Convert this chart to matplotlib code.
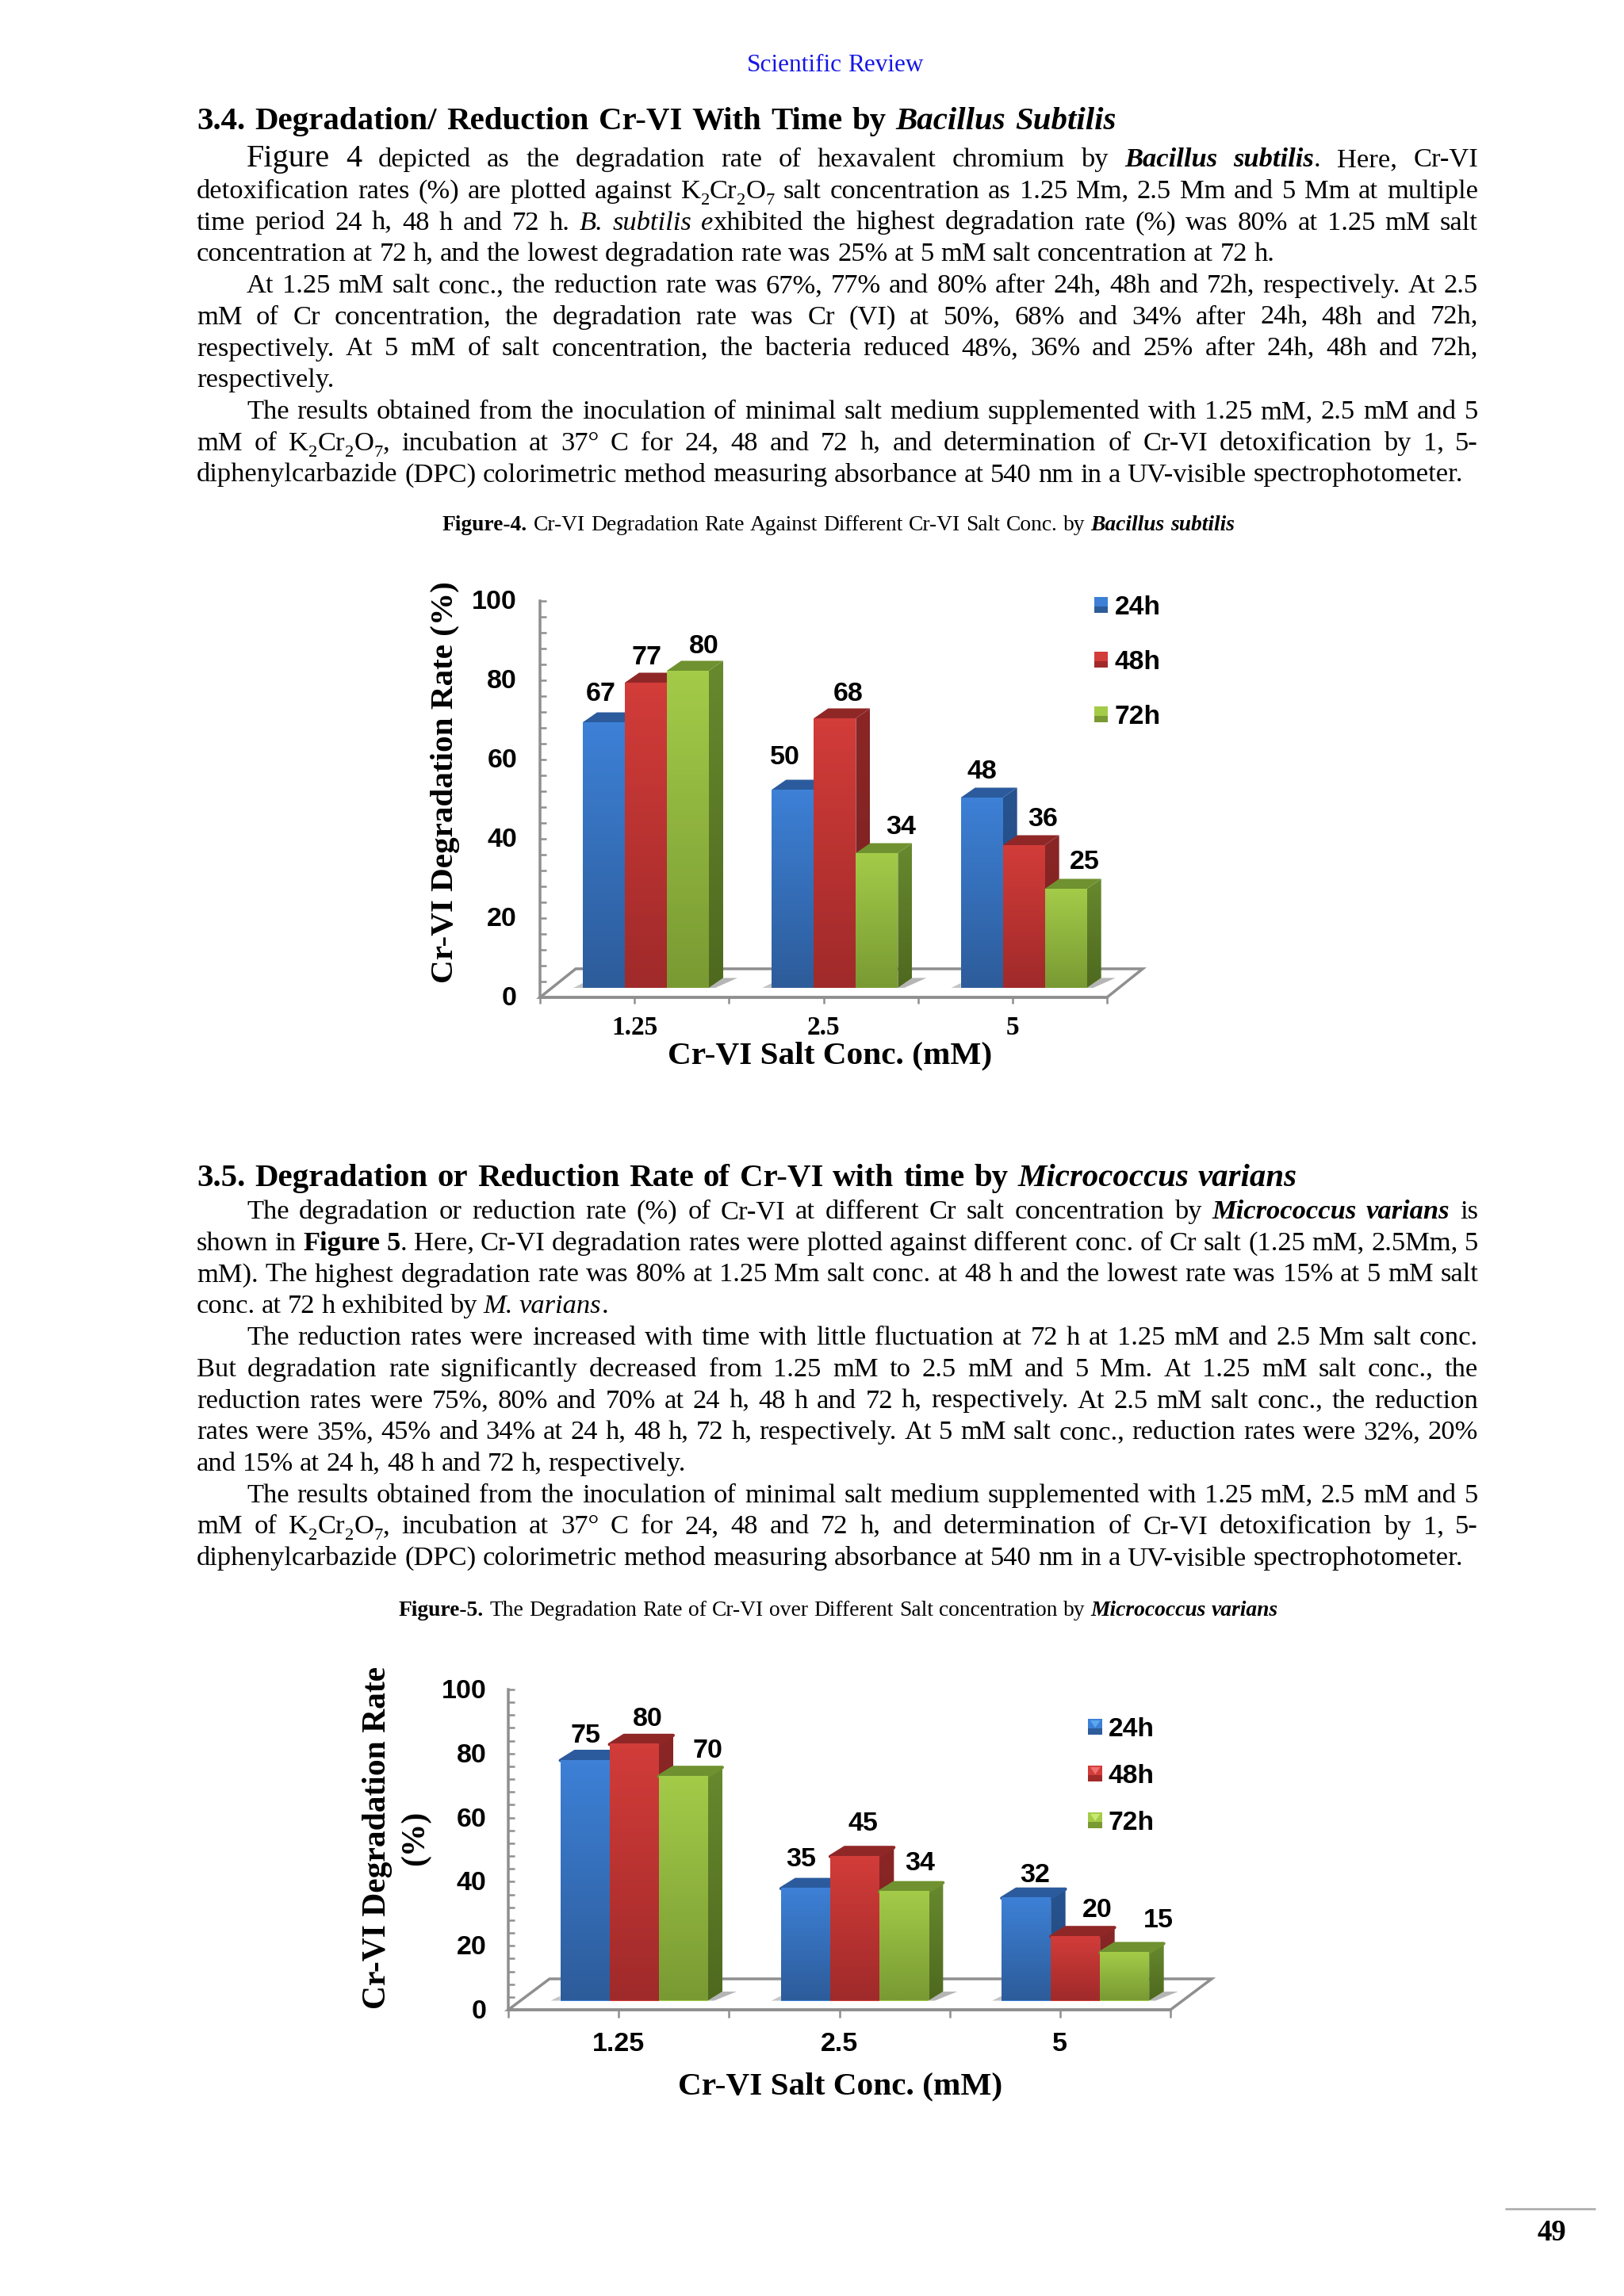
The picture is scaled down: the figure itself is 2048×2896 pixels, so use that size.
import re
import numpy as np
import matplotlib
matplotlib.use("Agg")
import matplotlib.pyplot as plt
from matplotlib.colors import LinearSegmentedColormap
from matplotlib.font_manager import FontProperties
from matplotlib.legend_handler import HandlerBase
from matplotlib.patches import Patch, Polygon, Rectangle
from matplotlib.ticker import MultipleLocator
from matplotlib.transforms import ScaledTranslation

W, H = 2048, 2896
SERIF = "Liberation Serif"
SANS = "Liberation Sans"

# ---------- data ----------
categories = ["1.25", "2.5", "5"]
series_names = ["24h", "48h", "72h"]
fig4_24h = [67, 50, 48]
fig4_48h = [77, 68, 36]
fig4_72h = [80, 34, 25]
fig5_24h = [75, 35, 32]
fig5_48h = [80, 45, 20]
fig5_72h = [70, 34, 15]
y_ticks = [0, 20, 40, 60, 80, 100]

# label offsets (px) relative to the bar centre / bar top
fig4_label_dx = [[-4, 1, 20], [-10, 17, 30], [0, 24, 24]]
fig4_label_dy = [36, 31, 31, 41, 30, 32, 32, 33, 33]
fig5_label_dx = [[1, 17, 31], [-6, 11, 20], [11, 28, 43]]
fig5_label_dy = [31, 32, 32, 37, 41, 36, 29, 33, 40]

FRONT = [("#3d80d6", "#2d5c9a"), ("#d23c39", "#a02a2a"), ("#a3cb48", "#799a33")]
SIDE = [("#27538f", "#224a80"), ("#8b2626", "#7a2121"), ("#68892e", "#4e691f")]
TOP = ["#2b5b9d", "#902727", "#70912f"]
AXIS = "#8f8f8f"

fig = plt.figure(figsize=(W / 100, H / 100), dpi=100, facecolor="white")
page = fig.add_axes([0, 0, 1, 1], zorder=0)
page.set_xlim(0, W)
page.set_ylim(H, 0)
page.axis("off")
renderer = fig.canvas.get_renderer()


def px(p):
    return p * 72 / 100


def fprop(style, size):
    kw = {"family": SERIF, "size": size}
    if style in ("b", "bi"):
        kw["weight"] = "bold"
    if style in ("i", "bi"):
        kw["style"] = "italic"
    if style == "s":
        kw["size"] = size * 0.65
    if style == "big":
        kw["size"] = size * 1.17
    return FontProperties(**kw)


def parse(line):
    words, cur = [], []
    for chunk in re.split(r"(<[a-z]+>.*?</[a-z]+>)", line):
        if not chunk:
            continue
        m = re.fullmatch(r"<([a-z]+)>(.*?)</[a-z]+>", chunk)
        style, text = (m.group(1), m.group(2)) if m else ("r", chunk)
        for part in re.split(r"( +)", text):
            if not part:
                continue
            if part.isspace():
                if cur:
                    words.append(cur)
                cur = []
            else:
                cur.append((part, style))
    if cur:
        words.append(cur)
    return words


def width(text, fp):
    return renderer.get_text_width_height_descent(text, fp, False)[0]


def text_line(line, x0, x1, y, size, color="black"):
    words = parse(line)
    widths = [sum(width(t, fprop(s, size)) for t, s in w) for w in words]
    gap = (x1 - x0 - sum(widths)) / max(len(words) - 1, 1)
    x = x0
    for w, ww in zip(words, widths):
        cx = x
        for t, s in w:
            fp = fprop(s, size)
            dy = 8 if s == "s" else 0
            page.text(cx, y + dy, t, fontproperties=fp, color=color, va="baseline", ha="left")
            cx += width(t, fp)
        x += ww + gap


L, R, IND = 248, 1864, 311
BODY = 24.8
PITCH = 39.75

section1 = [
    (IND, R, "<big>Figure</big> <big>4</big> depicted as the degradation rate of hexavalent chromium by <bi>Bacillus</bi> <bi>subtilis</bi>. Here, Cr-VI"),
    (L, R, "detoxification rates (%) are plotted against K<s>2</s>Cr<s>2</s>O<s>7</s> salt concentration as 1.25 Mm, 2.5 Mm and 5 Mm at multiple"),
    (L, R, "time period 24 h, 48 h and 72 h. <i>B. subtilis e</i>xhibited the highest degradation rate (%) was 80% at 1.25 mM salt"),
    (L, 1607, "concentration at 72 h, and the lowest degradation rate was 25% at 5 mM salt concentration at 72 h."),
    (IND, R, "At 1.25 mM salt conc., the reduction rate was 67%, 77% and 80% after 24h, 48h and 72h, respectively. At 2.5"),
    (L, R, "mM of Cr concentration, the degradation rate was Cr (VI) at 50%, 68% and 34% after 24h, 48h and 72h,"),
    (L, R, "respectively. At 5 mM of salt concentration, the bacteria reduced 48%, 36% and 25% after 24h, 48h and 72h,"),
    (L, 420, "respectively."),
    (IND, R, "The results obtained from the inoculation of minimal salt medium supplemented with 1.25 mM, 2.5 mM and 5"),
    (L, R, "mM of K<s>2</s>Cr<s>2</s>O<s>7</s>, incubation at 37° C for 24, 48 and 72 h, and determination of Cr-VI detoxification by 1, 5-"),
    (L, 1845, "diphenylcarbazide (DPC) colorimetric method measuring absorbance at 540 nm in a UV-visible spectrophotometer."),
]
section2 = [
    (IND, R, "The degradation or reduction rate (%) of Cr-VI at different Cr salt concentration by <bi>Micrococcus</bi> <bi>varians</bi> is"),
    (L, R, "shown in <b>Figure</b> <b>5</b>. Here, Cr-VI degradation rates were plotted against different conc. of Cr salt (1.25 mM, 2.5Mm, 5"),
    (L, R, "mM). The highest degradation rate was 80% at 1.25 Mm salt conc. at 48 h and the lowest rate was 15%  at 5 mM salt"),
    (L, 767, "conc. at 72 h exhibited by <i>M. varians</i>."),
    (IND, R, "The reduction rates were increased with time with little fluctuation at 72 h at 1.25 mM and 2.5 Mm salt conc."),
    (L, R, "But degradation rate significantly decreased from 1.25 mM to 2.5 mM and 5 Mm.  At 1.25 mM salt conc., the"),
    (L, R, "reduction rates were 75%, 80% and 70% at 24 h, 48 h and 72 h, respectively. At 2.5 mM salt conc., the reduction"),
    (L, R, "rates were 35%, 45% and 34% at 24 h, 48 h, 72 h, respectively. At 5 mM salt conc., reduction rates were 32%, 20%"),
    (L, 865, "and 15% at 24 h, 48 h and 72 h, respectively."),
    (IND, R, "The results obtained from the inoculation of minimal salt medium supplemented with 1.25 mM, 2.5 mM and 5"),
    (L, R, "mM of K<s>2</s>Cr<s>2</s>O<s>7</s>, incubation at 37° C for 24, 48 and 72 h, and determination of Cr-VI detoxification by 1, 5-"),
    (L, 1845, "diphenylcarbazide (DPC) colorimetric method measuring absorbance at 540 nm in a UV-visible spectrophotometer."),
]

text_line("Scientific Review", 942, 1165, 90, 22.5, color="#1414e6")
text_line("<b>3.4.</b> <b>Degradation/</b> <b>Reduction</b> <b>Cr-VI</b> <b>With</b> <b>Time</b> <b>by</b> <bi>Bacillus</bi> <bi>Subtilis</bi>", L, 1408, 163, 29.4)
for i, (a, b, s) in enumerate(section1):
    text_line(s, a, b, 210 + i * PITCH, BODY)
text_line("<b>Figure-4.</b> Cr-VI Degradation Rate Against Different Cr-VI Salt Conc. by <bi>Bacillus</bi> <bi>subtilis</bi>", 558, 1557, 669, 19.8)
text_line("<b>3.5.</b> <b>Degradation</b> <b>or</b> <b>Reduction</b> <b>Rate</b> <b>of</b> <b>Cr-VI</b> <b>with</b> <b>time</b> <b>by</b> <bi>Micrococcus</bi> <bi>varians</bi>", L, 1636, 1496, 29.4)
for i, (a, b, s) in enumerate(section2):
    text_line(s, a, b, 1537 + i * PITCH, BODY)
text_line("<b>Figure-5.</b> The Degradation Rate of Cr-VI over Different Salt concentration by <bi>Micrococcus</bi> <bi>varians</bi>", 503, 1612, 2038, 19.8)
page.plot([1898, 2012], [2786, 2786], color="#a8a8a8", lw=px(2.5), solid_capstyle="butt")
page.text(1957, 2826, "49", family=SERIF, weight="bold", size=26.5, ha="center", va="baseline")


class Swatch(HandlerBase):
    def __init__(self, front, side, chevron):
        super().__init__()
        self.front, self.side, self.chevron = front, side, chevron

    def create_artists(self, legend, orig, xd, yd, w, h, fontsize, trans):
        r1 = Rectangle((-xd, -yd), w, h, facecolor=self.side, edgecolor="none", transform=trans)
        r2 = Rectangle((-xd, -yd + h * 0.4), w, h * 0.6, facecolor=self.front, edgecolor="none", transform=trans)
        out = [r1, r2]
        if self.chevron:
            t = Polygon([(-xd + w * .15, -yd + h * .9), (-xd + w * .85, -yd + h * .9), (-xd + w / 2, -yd + h * .45)],
                        facecolor=self.chevron, edgecolor="none", transform=trans)
            out.append(t)
        return out


def chart(x0, x1, y_top, y_zero, series, dxs, dys, c):
    ax = fig.add_axes([x0 / W, 1 - y_zero / H, (x1 - x0) / W, (y_zero - y_top) / H], zorder=2)
    ax.patch.set_alpha(0)
    ax.set_xlim(0, 3)
    ax.set_ylim(0, 100)
    ux = (x1 - x0) / 3
    uy = (y_zero - y_top) / 100
    for s in ("top", "right"):
        ax.spines[s].set_visible(False)
    for s in ("left", "bottom"):
        ax.spines[s].set_color(AXIS)
        ax.spines[s].set_linewidth(px(3.5))
    ax.set_yticks(y_ticks)
    ax.set_yticklabels([str(v) for v in y_ticks], family=SANS, weight="bold", size=24.5)
    ax.yaxis.set_minor_locator(MultipleLocator(4))
    ax.tick_params(axis="y", which="both", direction="in", length=px(8), width=px(2.5), color=AXIS, pad=px(c["ypad"]))
    ax.set_xticks(np.arange(0, 3.01, 0.5))
    ax.set_xticklabels(["", categories[0], "", categories[1], "", categories[2], ""],
                       family=c["xfamily"], weight="bold", size=c["xsize"])
    ax.tick_params(axis="x", direction="out", length=px(c["xtick"]), width=px(2.5), color=AXIS, pad=px(c["xpad"]))
    lift = ScaledTranslation(0, px(c["ylift"]) / 72, fig.dpi_scale_trans)
    for t in ax.get_yticklabels():
        t.set_transform(t.get_transform() + lift)

    # floor
    fx = c["floor_dx"] / ux
    fy = c["floor_dy"] / uy
    ax.add_patch(Polygon([(0, 0), (3, 0), (3 + fx, fy), (fx, fy)], closed=True, facecolor="white",
                         edgecolor=AXIS, lw=px(3.5), zorder=1, clip_on=False, joinstyle="miter"))

    bw = c["bar_w"] / ux
    start = c["bar_start"] / ux
    base = c["base"] / uy
    dx = c["dx"] / ux
    dy = c["dy"] / uy
    z = 3
    k = 0
    for g in range(3):
        gx = g + start
        right = gx + 3 * bw
        # shadows on the floor
        ax.add_patch(Polygon([(right, base), (right + dx, base + dy), (right + dx + 18 / ux, base + dy),
                              (right + 8 / ux, base)], facecolor="#b5b5b5", edgecolor="none", zorder=2, clip_on=False))
        ax.add_patch(Polygon([(gx - 12 / ux, base), (gx, base + 6 / uy), (gx, base)], facecolor="#c4c4c4",
                             edgecolor="none", zorder=2, clip_on=False))
        for s in range(3):
            v = series[s][g]
            x = gx + s * bw
            top = base + v
            # side face
            side = Polygon([(x + bw, base), (x + bw + dx, base + dy), (x + bw + dx, top + dy), (x + bw, top)],
                           transform=ax.transData, clip_on=False)
            im = ax.imshow(np.linspace(0, 1, 64)[:, None],
                           cmap=LinearSegmentedColormap.from_list("s", SIDE[s]), aspect="auto", origin="upper",
                           extent=[x + bw, x + bw + dx, base, top + dy], zorder=z, clip_on=True)
            im.set_clip_path(side)
            # top face
            ax.add_patch(Polygon([(x, top), (x + bw, top), (x + bw + dx, top + dy), (x + dx, top + dy)],
                                 facecolor=TOP[s], edgecolor=TOP[s], lw=px(c["round"]), joinstyle="round",
                                 zorder=z + 1, clip_on=False))
            # front face
            ax.bar(x, v, width=bw, bottom=base, align="edge", color=FRONT[s][0], zorder=z + 2, clip_on=False)
            ax.imshow(np.linspace(0, 1, 64)[:, None],
                      cmap=LinearSegmentedColormap.from_list("f", FRONT[s]), aspect="auto", origin="upper",
                      extent=[x, x + bw, base, top], zorder=z + 3, clip_on=False)
            ax.annotate(str(v), xy=(x + bw / 2, top), xytext=(px(dxs[g][s]), px(dys[k])),
                        textcoords="offset points", family=SANS, weight="bold", size=24.5,
                        ha="center", va="center", zorder=50, annotation_clip=False)
            z += 4
            k += 1
    ax.set_xlim(0, 3)
    ax.set_ylim(0, 100)

    handles = [Patch(color=FRONT[i][0], label=series_names[i]) for i in range(3)]
    chev = c["chevron"]
    hmap = {handles[i]: Swatch(FRONT[i][0], FRONT[i][1], chev[i] if chev else None) for i in range(3)}
    leg = ax.legend(handles=handles, handler_map=hmap, frameon=False, loc="upper left",
                    bbox_to_anchor=(c["leg_x"] / W, 1 - c["leg_y"] / H), bbox_transform=fig.transFigure,
                    borderpad=0, borderaxespad=0, prop=FontProperties(family=SANS, weight="bold", size=24.2),
                    handlelength=c["sw"] / 33, handleheight=c["sw"] / 33, handletextpad=c["tp"] / 33,
                    labelspacing=c["ls"])
    leg.set_zorder(60)

    ax.set_xlabel("Cr-VI Salt Conc. (mM)", family=SERIF, weight="bold", size=29.7, va="baseline", ha="center")
    ax.xaxis.set_label_coords(c["xl"][0], c["xl"][1], transform=page.transData)
    ax.set_ylabel(c["ylabel"], family=SERIF, weight="bold", size=c["ylsize"], va="center", ha="center",
                  multialignment="center", linespacing=c["ylspace"], rotation=90)
    ax.yaxis.set_label_coords(c["yl"][0], c["yl"][1], transform=page.transData)
    return ax


chart(681, 1396, 758, 1258, [fig4_24h, fig4_48h, fig4_72h], fig4_label_dx, fig4_label_dy,
      dict(ypad=29, ylift=1.5, xfamily=SERIF, xsize=24, xtick=8, xpad=15, floor_dx=45, floor_dy=36, bar_w=53, bar_start=54,
           base=12, dx=18, dy=12.5, round=0, chevron=None, leg_x=1380, leg_y=751, sw=17, tp=8, ls=1.13,
           xl=(1047, 1341), ylabel="Cr-VI Degradation Rate (%)", ylsize=29.6, ylspace=1.0, yl=(562, 987)))
chart(641, 1476, 2131, 2535, [fig5_24h, fig5_48h, fig5_72h], fig5_label_dx, fig5_label_dy,
      dict(ypad=27.5, ylift=1, xfamily=SANS, xsize=24.5, xtick=10, xpad=18, floor_dx=52, floor_dy=39, bar_w=62, bar_start=65.5,
           base=11.5, dx=18.5, dy=11.5, round=4, chevron=["#5aa8f0", "#f07070", "#c8e870"], leg_x=1372, leg_y=2166,
           sw=18, tp=7, ls=0.83, xl=(1060, 2641), ylabel="Cr-VI Degradation Rate\n(%)", ylsize=29.9, ylspace=1.3,
           yl=(500, 2318)))

fig.savefig("out.png", dpi=100, facecolor="white")
